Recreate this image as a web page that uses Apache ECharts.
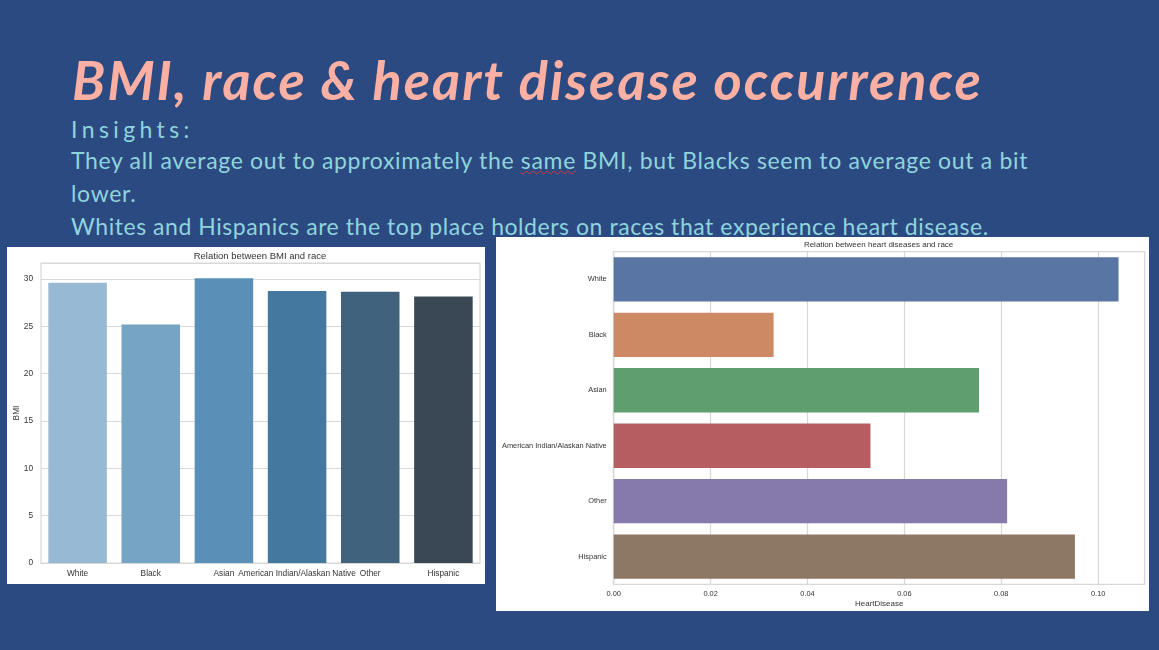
<!DOCTYPE html>
<html>
<head>
<meta charset="utf-8">
<script src="https://cdn.jsdelivr.net/npm/echarts@6/dist/echarts.min.js"></script>
<style>
html,body{margin:0;padding:0;width:1159px;height:650px;overflow:hidden;background:#2c4a82;}
.head{position:absolute;white-space:nowrap;color:#8fd4dc;font-family:Lato,sans-serif;font-size:23px;line-height:32px;}
#slideTitle{left:72px;top:48px;color:#fcb0a3;font-size:54px;line-height:64px;font-weight:700;font-style:italic;letter-spacing:2px;}
#insights{left:71px;top:113px;letter-spacing:4.4px;}
#line1{left:71px;top:144px;letter-spacing:.67px;}
#line2{left:71px;top:177px;letter-spacing:.67px;}
#line3{left:71px;top:210px;letter-spacing:.55px;}
.same{text-decoration:underline wavy #d8343a 1px;}
.panel{position:absolute;background:#fff;}
#bmiChart{left:7px;top:247px;width:478px;height:337px;}
#heartChart{left:496px;top:237px;width:653px;height:374px;}
</style>
</head>
<body>
<div class="head" id="slideTitle">BMI, race &amp; heart disease occurrence</div>
<div class="head" id="insights">Insights:</div>
<div class="head" id="line1">They all average out to approximately the <span class="same">same</span> BMI, but Blacks seem to average out a bit</div>
<div class="head" id="line2">lower.</div>
<div class="head" id="line3">Whites and Hispanics are the top place holders on races that experience heart disease.</div>
<div class="panel" id="bmiChart"></div>
<div class="panel" id="heartChart"></div>
<script>
const races = ['White', 'Black', 'Asian', 'American Indian/Alaskan Native', 'Other', 'Hispanic'];
const bmiValues = [29.6, 25.2, 30.1, 28.75, 28.65, 28.15];
const bmiColors = ['#97b9d3', '#76a4c4', '#5a90b8', '#45789f', '#40627c', '#3a4855'];
const heartValues = [0.1042, 0.033, 0.0754, 0.053, 0.0812, 0.0952];
const heartColors = ['#5975a4', '#cc8963', '#5f9e6e', '#b55d60', '#857aab', '#8d7866'];

const gridColor = '#d8d8d8';
const textColor = '#333';
const font = 'Liberation Sans';

function colored(values, colors){
    return values.map((v, i) => ({value: v, itemStyle: {color: colors[i]}}));
}

const bmiChart = echarts.init(document.getElementById('bmiChart'));
bmiChart.setOption({
    animation: false,
    title: {
        text: 'Relation between BMI and race',
        left: 253, top: 4, padding: 0, textAlign: 'center',
        textStyle: {fontFamily: font, fontSize: 9.5, fontWeight: 'normal', color: textColor}
    },
    grid: {left: 34, top: 16, width: 439, height: 300, outerBoundsMode: 'none', show: true, borderColor: gridColor, borderWidth: 1.2},
    xAxis: {
        type: 'category',
        data: races,
        axisLine: {lineStyle: {color: gridColor, width: 1.2}},
        axisTick: {show: false},
        axisLabel: {interval: 0, hideOverlap: false, margin: 7, fontFamily: font, fontSize: 8.3, color: textColor}
    },
    yAxis: {
        type: 'value',
        min: 0, max: 31.7, interval: 5,
        name: 'BMI', nameLocation: 'middle', nameGap: 20, nameMoveOverlap: false,
        nameTextStyle: {fontFamily: font, fontSize: 8.3, color: textColor},
        axisLine: {show: false},
        axisTick: {show: false},
        splitLine: {lineStyle: {color: gridColor, width: 1.2}},
        axisLabel: {showMaxLabel: false, margin: 8, fontFamily: font, fontSize: 8.3, color: textColor}
    },
    series: [{type: 'bar', barCategoryGap: '20%', data: colored(bmiValues, bmiColors)}]
});

const heartChart = echarts.init(document.getElementById('heartChart'));
heartChart.setOption({
    animation: false,
    title: {
        text: 'Relation between heart diseases and race',
        left: 382.6, top: 3.5, padding: 0, textAlign: 'center',
        textStyle: {fontFamily: font, fontSize: 8, fontWeight: 'normal', color: textColor}
    },
    grid: {left: 117.7, top: 14.7, width: 531, height: 332.6, outerBoundsMode: 'none', show: true, borderColor: gridColor, borderWidth: 1.2},
    xAxis: {
        type: 'value',
        min: 0, max: 0.1096, interval: 0.02,
        name: 'HeartDisease', nameLocation: 'middle', nameGap: 15, nameMoveOverlap: false,
        nameTextStyle: {fontFamily: font, fontSize: 8, color: textColor},
        axisLine: {show: false},
        axisTick: {show: false},
        splitLine: {lineStyle: {color: gridColor, width: 1.2}},
        axisLabel: {showMaxLabel: false, margin: 6, fontFamily: font, fontSize: 7.4, color: textColor, formatter: v => v.toFixed(2)}
    },
    yAxis: {
        type: 'category',
        inverse: true,
        data: races,
        axisLine: {lineStyle: {color: gridColor, width: 1.2}},
        axisTick: {show: false},
        axisLabel: {interval: 0, margin: 7, fontFamily: font, fontSize: 7.4, color: textColor}
    },
    series: [{type: 'bar', barCategoryGap: '20%', data: colored(heartValues, heartColors)}]
});
</script>
</body>
</html>
